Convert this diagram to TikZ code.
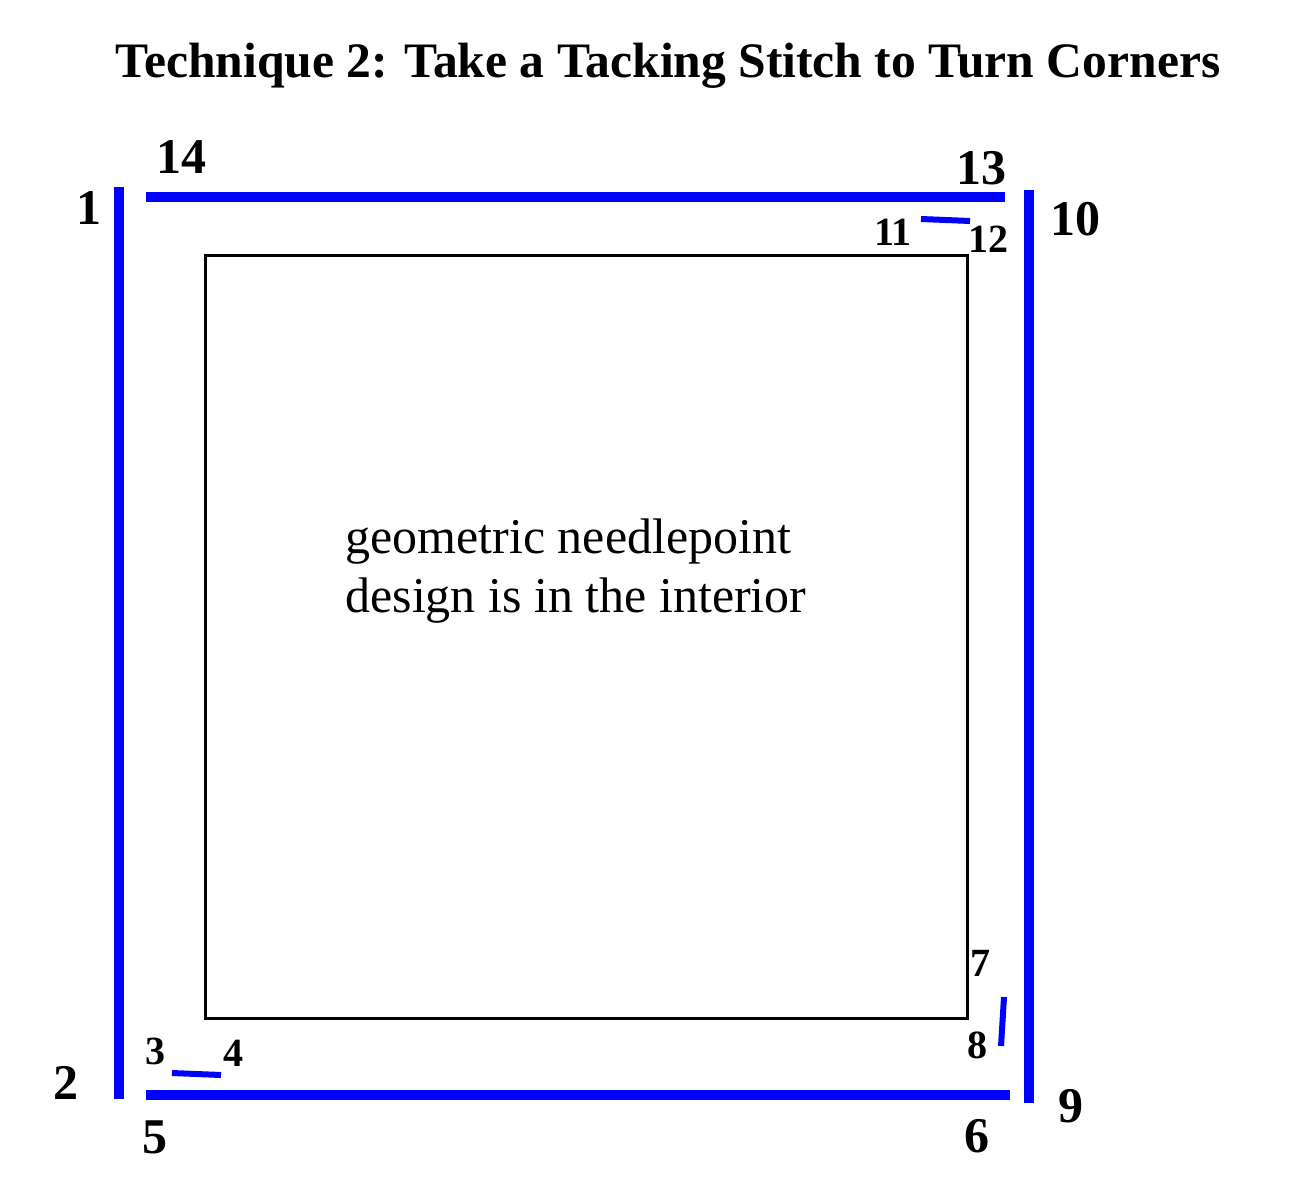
\documentclass[tikz,border=0pt]{standalone}
\usepackage{fontspec}
\setmainfont{Liberation Serif}
\usetikzlibrary{positioning}

\tikzset{
  stitch/.style={draw=blue, line width=5pt},
  tack/.style={draw=blue, line width=3pt},
  bignum/.style={font=\fontsize{25}{25}\selectfont\bfseries, inner sep=0pt},
  smallnum/.style={font=\fontsize{20}{20}\selectfont\bfseries, inner sep=0pt}
}

\begin{document}
\begin{tikzpicture}[x=0.5pt, y=-0.5pt]
    \useasboundingbox (0,0) rectangle (1304,1203);

    %Title
    \node[font=\fontsize{24.8}{24.8}\selectfont\bfseries] (title) at (668,66) {Technique 2: Take a Tacking Stitch to Turn Corners};

    %Design area
    \draw[line width=1.5pt] (205,256) rectangle (967,1018);
    \node[font=\fontsize{25}{30}\selectfont, anchor=base west, inner sep=0pt] (txta) at (345,553) {geometric needlepoint};
    \node[font=\fontsize{25}{30}\selectfont, anchor=base west, inner sep=0pt] (txtb) at (345,612) {design is in the interior};

    %Stitch ends
    \coordinate (s1) at (119,187);
    \coordinate (s2) at (119,1099);
    \coordinate (s3) at (172,1073);
    \coordinate (s4) at (221,1075);
    \coordinate (s5) at (146,1095);
    \coordinate (s6) at (1010,1095);
    \coordinate (s7) at (1004,997);
    \coordinate (s8) at (1001,1046);
    \coordinate (s9) at (1029,1103);
    \coordinate (s10) at (1029,190);
    \coordinate (s11) at (921,219);
    \coordinate (s12) at (970,221);
    \coordinate (s13) at (1005,197);
    \coordinate (s14) at (146,197);

    %Numbers
    \node[bignum] (n1) at (89,208) {1};
    \node[bignum] (n2) at (66,1083) {2};
    \node[smallnum] (n3) at (155,1051) {3};
    \node[smallnum] (n4) at (233,1053) {4};
    \node[bignum] (n5) at (155,1137) {5};
    \node[bignum] (n6) at (977,1136) {6};
    \node[smallnum] (n7) at (980,963) {7};
    \node[smallnum] (n8) at (977,1045) {8};
    \node[bignum] (n9) at (1071,1106) {9};
    \node[bignum] (n10) at (1075,219) {10};
    \node[smallnum] (n11) at (893,232) {11};
    \node[smallnum] (n12) at (988,239) {12};
    \node[bignum] (n13) at (981,168) {13};
    \node[bignum] (n14) at (181,157) {14};

    %Lines
    \draw[stitch] (s1) -- (s2);
    \draw[tack] (s3) -- (s4);
    \draw[stitch] (s5) -- (s6);
    \draw[tack] (s7) -- (s8);
    \draw[stitch] (s9) -- (s10);
    \draw[tack] (s11) -- (s12);
    \draw[stitch] (s13) -- (s14);
\end{tikzpicture}
\end{document}
